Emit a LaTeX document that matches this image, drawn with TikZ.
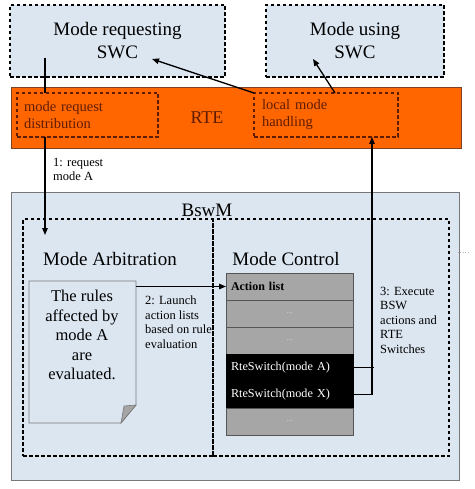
\documentclass[tikz,border=0pt]{standalone}
\usepackage{fontspec}
\setmainfont{Liberation Serif}
\usetikzlibrary{arrows.meta}
\definecolor{swcblue}{RGB}{220,230,241}
\definecolor{rteorange}{RGB}{255,102,0}
\definecolor{rteedge}{RGB}{125,65,35}
\definecolor{rtetext}{RGB}{96,28,0}
\definecolor{bswedge}{RGB}{120,120,120}
\definecolor{rowgray}{RGB}{166,166,166}
\definecolor{rowline}{RGB}{85,85,85}
\definecolor{dotgray}{RGB}{215,215,215}
\definecolor{foldgray}{RGB}{165,165,165}
\tikzset{
  box/.style={anchor=north west, inner sep=0pt, outer sep=0pt},
  dashbox/.style={box, draw=black, line width=1.3pt, dash pattern=on 3.5pt off 2.5pt},
  bigtext/.style={font=\fontsize{19}{23}\selectfont},
  rtebox/.style={dashbox, draw=rtetext, line width=1.1pt, align=left, text=rtetext,
    font=\fontsize{14.5}{17}\selectfont, minimum height=44pt},
  row/.style={box, draw=rowline, fill=rowgray, line width=0.6pt,
    minimum width=127pt, minimum height=27pt},
  dotsrow/.style={row, text=dotgray, font=\fontsize{8}{9}\selectfont},
  namerow/.style={row, align=left, text width=117pt, inner xsep=5pt},
  switchrow/.style={namerow, fill=black, draw=black, text=white, font=\fontsize{12.2}{14}\selectfont},
  steplabel/.style={anchor=west, align=left, inner sep=0pt, font=\fontsize{12.5}{14.5}\selectfont},
  flow/.style={line width=1.3pt, -{Triangle[length=7pt,width=5.5pt]}},
}
\begin{document}
\begin{tikzpicture}[x=1pt,y=-1pt]
  \useasboundingbox (0,0) rectangle (474,489);

  % software components
  \node[dashbox, fill=swcblue, bigtext, align=center, minimum width=215pt, minimum height=72pt]
    (reqswc) at (10,5) {Mode requesting\\SWC};
  \node[dashbox, fill=swcblue, bigtext, align=center, minimum width=178pt, minimum height=72pt]
    (useswc) at (266,5) {Mode using\\SWC};

  % RTE
  \node[box, draw=rteedge, fill=rteorange, line width=0.8pt, minimum width=450pt, minimum height=61pt]
    (rte) at (11,87) {};
  \node[bigtext, text=rtetext, font=\fontsize{18}{22}\selectfont] (rtename) at (207,118) {RTE};
  \node[rtebox, minimum width=141pt, text width=127pt, inner xsep=7pt]
    (reqdist) at (17,93) {mode request\\distribution};
  \node[rtebox, minimum width=142pt, text width=128pt, inner xsep=8pt]
    (localmode) at (254,93) {local mode\\handling};

  % BswM
  \node[box, draw=bswedge, fill=swcblue, line width=0.8pt, minimum width=448pt, minimum height=288pt]
    (bswm) at (11,192) {};
  \node[bigtext] (bswname) at (207,210) {BswM};
  \node[dashbox, minimum width=190pt, minimum height=237pt] (arb) at (23,219) {};
  \node[dashbox, minimum width=236pt, minimum height=237pt] (ctrl) at (213,219) {};
  \node[bigtext] (arbname) at (110,259) {Mode Arbitration};
  \node[bigtext] (ctrlname) at (286,259) {Mode Control};

  % rule sheet
  \node[box, minimum width=107pt, minimum height=142pt] (note) at (29,281) {};
  \filldraw[draw=bswedge, fill=swcblue, line width=0.8pt]
    (note.north west) -- (note.north east) -- ([yshift=18pt]note.south east)
    -- ([xshift=-15pt]note.south east) -- (note.south west) -- cycle;
  \filldraw[draw=bswedge, fill=foldgray, line width=0.6pt]
    ([yshift=18pt]note.south east) -- ([xshift=-12pt,yshift=17pt]note.south east)
    -- ([xshift=-15pt]note.south east) -- cycle;
  \node[align=center, font=\fontsize{16.5}{19.5}\selectfont] (notetext) at (82,335)
    {The rules\\affected by\\mode A\\are\\evaluated.};

  % action list
  \node[namerow, font=\bfseries\fontsize{12}{14}\selectfont] (act) at (226,273) {Action list};
  \node[dotsrow] (dotsa) at (226,300) {...};
  \node[dotsrow] (dotsb) at (226,327) {...};
  \node[switchrow] (swa) at (226,354) {RteSwitch(mode A)};
  \node[switchrow] (swx) at (226,381) {RteSwitch(mode X)};
  \node[dotsrow] (dotsc) at (226,408) {...};

  % connectors
  \coordinate (reqout) at (45,58);
  \coordinate (arbin) at (45,235);
  \coordinate (reqin) at (152,59);
  \coordinate (usein) at (313,59);
  \coordinate (handin) at (372,137);
  \draw[line width=1.3pt] (reqout) -- (reqout |- reqdist.north);
  \draw[flow] (reqout |- reqdist.south) -- (arbin);
  \draw[flow] (localmode.north west) -- (reqin);
  \draw[flow] ([xshift=81pt]localmode.north west) -- (usein);
  \draw[flow] (act.west -| note.east) -- (act.west);
  \draw[line width=1.3pt] (swa.east) -- ++(21,0);
  \draw[flow] (swx.east) -| (handin);

  % step labels
  \node[steplabel] (lbla) at (53,169.5) {1: request\\mode A};
  \node[steplabel] (lblb) at (145,322) {2: Launch\\action lists\\based on rule\\evaluation};
  \node[steplabel] (lblc) at (380,320) {3: Execute\\BSW\\actions and\\RTE\\Switches};

  \draw[dotted, gray!60] (458,252) -- (468,252);
\end{tikzpicture}
\end{document}
